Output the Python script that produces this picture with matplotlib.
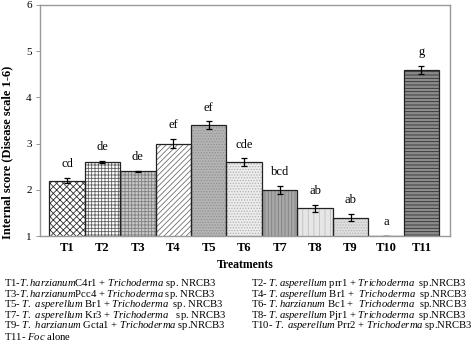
import numpy as np
import matplotlib
matplotlib.use("Agg")
import matplotlib.pyplot as plt

plt.rcParams['font.family'] = ['Liberation Serif', 'DejaVu Serif']
plt.rcParams['mathtext.fontset'] = 'custom'
plt.rcParams['mathtext.rm'] = 'Liberation Serif'
plt.rcParams['mathtext.it'] = 'Liberation Serif:italic'
plt.rcParams['hatch.linewidth'] = 0.6

treatments = ["T1", "T2", "T3", "T4", "T5", "T6", "T7", "T8", "T9", "T10", "T11"]
scores     = [2.2, 2.6, 2.4, 3.0, 3.4, 2.6, 2.0, 1.6, 1.4, 1.0, 4.6]
errors     = [0.05, 0.02, 0.01, 0.10, 0.08, 0.08, 0.09, 0.07, 0.07, 0.01, 0.09]
letters    = ["cd", "de", "de", "ef", "ef", "cde", "bcd", "ab", "ab", "a", "g"]

legend_lines = [
    (r"T1-$\it{T.harzianum}$C4r1 + $\it{Trichoderma}$ sp. NRCB3",
     r"T2- $\it{T.asperellum}$ prr1 + $\it{Trichoderma}$  sp.NRCB3"),
    (r"T3-$\it{T.harzianum}$Pcc4 + $\it{Trichoderma}$ sp. NRCB3",
     r"T4- $\it{T.asperellum}$ Br1 +  $\it{Trichoderma}$  sp.NRCB3"),
    (r"T5- $\it{T.}$ $\it{asperellum}$ Br1 + $\it{Trichoderma}$  sp. NRCB3",
     r"T6- $\it{T.harzianum}$ Bc1 +  $\it{Trichoderma}$  sp.NRCB3"),
    (r"T7- $\it{T.}$ $\it{asperellum}$ Kr3 + $\it{Trichoderma}$   sp. NRCB3",
     r"T8- $\it{T.asperellum}$ Pjr1 + $\it{Trichoderma}$  sp.NRCB3"),
    (r"T9- $\it{T.}$ $\it{harzianum}$ Gcta1 + $\it{Trichoderma}$ sp.NRCB3",
     r"T10- $\it{T.}$ $\it{asperellum}$ Prr2 + $\it{Trichoderma}$ sp.NRCB3"),
    (r"T11- $\it{Foc}$ alone", ""),
]

# face colour, hatch, hatch colour
styles = [
    ("white",   "xxxxx", "#303030"),
    ("white",   "+++++", "#606060"),
    ("#c8c8c8", "+++++", "#808080"),
    ("white",   "//////", "#707070"),
    ("#b4b4b4", "......", "#909090"),
    ("#ececec", "......", "#b0b0b0"),
    ("#a8a8a8", "|||||", "#808080"),
    ("#e6e6e6", "|||",   "#c0c0c0"),
    ("#dedede", "......", "#b8b8b8"),
    ("white",   "",      "white"),
    ("#8c8c8c", "-----", "#303030"),
]

fig = plt.figure(figsize=(4.74, 3.51), dpi=100)
ax = fig.add_axes([0.0844, 0.3276, 0.8646, 0.6582])

x = np.arange(len(treatments))
for i in range(len(x)):
    fc, hatch, hc = styles[i]
    ax.bar(x[i], scores[i], width=1.0, color=fc, hatch=hatch, edgecolor=hc, linewidth=0)
ax.bar(x, scores, width=1.0, color="none", edgecolor="#222222", linewidth=0.9)
ax.errorbar(x, scores, yerr=errors, fmt="none", ecolor="black", elinewidth=0.9, capsize=2.5, capthick=0.9)

for i in range(len(x)):
    ax.text(x[i], scores[i] + errors[i] + 0.3, letters[i], ha="center", va="center", fontsize=9)

ax.set_xlim(-0.76, 10.8)
ax.set_ylim(1, 6)
ax.set_yticks([1, 2, 3, 4, 5, 6])
ax.set_xticks(x)
ax.set_xticklabels(treatments, fontweight="bold", fontsize=9)
ax.tick_params(axis="x", length=0, pad=4)
ax.tick_params(axis="y", length=3, width=0.6, color="#888888", labelsize=8, pad=3)
for s in ax.spines.values():
    s.set_color("#999999")
    s.set_linewidth(1.0)

ax.set_ylabel("Internal score (Disease scale 1-6)", fontweight="bold", fontsize=9)
ax.yaxis.set_label_coords(-0.066, 0.36)
fig.text(0.517, 1 - 265 / 351, "Treatments", ha="center", va="center", fontweight="bold", fontsize=8.5)

for j, (left, right) in enumerate(legend_lines):
    yy = 1 - (283.7 + 10.5 * j) / 351
    fig.text(4 / 474, yy, left, ha="left", va="center", fontsize=7.7)
    if right:
        fig.text(251 / 474, yy, right, ha="left", va="center", fontsize=7.7)

fig.savefig("out.png", dpi=100)
